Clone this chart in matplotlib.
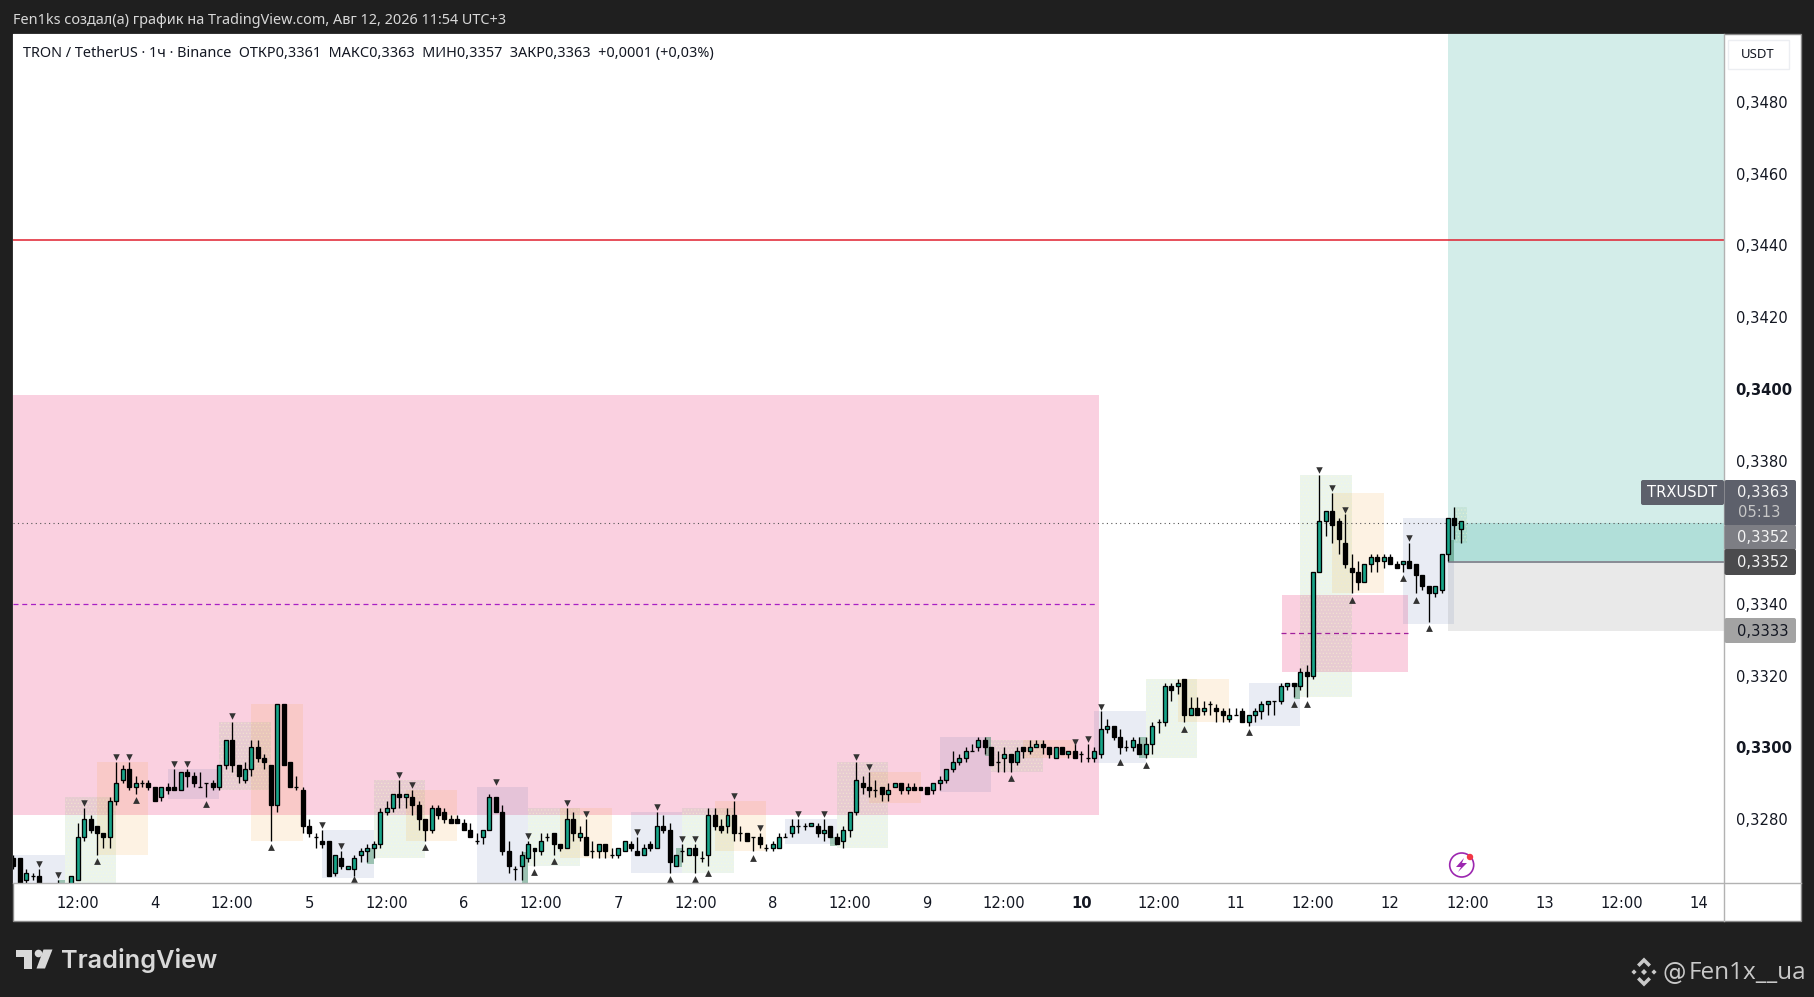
import numpy as np
import matplotlib
matplotlib.use('Agg')
import matplotlib.pyplot as plt
from matplotlib.patches import Rectangle, Polygon, Circle, FancyBboxPatch

W, H = 1814, 997
FONT = ['Noto Sans', 'DejaVu Sans']
plt.rcParams['font.family'] = FONT
plt.rcParams['hatch.linewidth'] = 0.6

# hours since Aug 3 12:00, one candle per hour, prices in 0.0001 units
first_hour = -10
opens = [
    3269, 3269, 3263, 3264, 3264, 3262, 3260, 3259, 3261, 3262,
    3263, 3275, 3280, 3278, 3276, 3275, 3285, 3291, 3294, 3289,
    3290, 3290, 3289, 3286, 3289, 3289, 3288, 3293, 3292, 3289,
    3290, 3290, 3289, 3295, 3302, 3295, 3291, 3294, 3300, 3297,
    3295, 3284, 3312, 3296, 3289, 3288, 3278, 3275, 3274, 3274,
    3265, 3269, 3266, 3266, 3270, 3271, 3272, 3273, 3282, 3283,
    3287, 3286, 3286, 3284, 3280, 3277, 3283, 3282, 3280, 3280,
    3279, 3277, 3274, 3275, 3277, 3286, 3282, 3271, 3266, 3267,
    3269, 3272, 3271, 3275, 3276, 3273, 3272, 3280, 3275, 3275,
    3271, 3271, 3273, 3270, 3270, 3271, 3273, 3271, 3270, 3273,
    3272, 3278, 3277, 3267, 3271, 3270, 3272, 3269, 3270, 3281,
    3278, 3278, 3281, 3276, 3276, 3275, 3275, 3272, 3272, 3272,
    3275, 3276, 3278, 3278, 3278, 3278, 3276, 3278, 3275, 3274,
    3277, 3282, 3290, 3289, 3288, 3289, 3287, 3289, 3290, 3288,
    3289, 3289, 3289, 3288, 3290, 3291, 3294, 3296, 3297, 3299,
    3300, 3302, 3300, 3296, 3297, 3298, 3296, 3300, 3299, 3300,
    3301, 3300, 3297, 3300, 3298, 3299, 3298, 3297, 3297, 3298,
    3305, 3306, 3303, 3300, 3300, 3301, 3298, 3301, 3307, 3307,
    3317, 3317, 3319, 3309, 3311, 3310, 3312, 3311, 3310, 3308,
    3309, 3310, 3307, 3309, 3310, 3312, 3313, 3313, 3317, 3318,
    3317, 3321, 3320, 3349, 3363, 3366, 3363, 3357, 3350, 3349,
    3346, 3351, 3353, 3352, 3353, 3351, 3351, 3352, 3351, 3348,
    3345, 3343, 3344, 3354, 3364, 3361,
]
highs = [
    3270, 3269, 3266, 3265, 3266, 3262, 3261, 3263, 3262, 3264,
    3279, 3283, 3281, 3278, 3276, 3286, 3296, 3295, 3296, 3292,
    3291, 3291, 3289, 3289, 3290, 3294, 3293, 3294, 3293, 3293,
    3290, 3291, 3295, 3302, 3307, 3295, 3296, 3302, 3302, 3298,
    3295, 3312, 3312, 3296, 3292, 3289, 3280, 3276, 3277, 3274,
    3270, 3271, 3267, 3270, 3272, 3273, 3274, 3283, 3285, 3287,
    3291, 3287, 3288, 3285, 3280, 3284, 3284, 3283, 3281, 3281,
    3280, 3279, 3276, 3277, 3287, 3286, 3284, 3274, 3267, 3271,
    3274, 3272, 3276, 3276, 3276, 3273, 3283, 3282, 3278, 3280,
    3274, 3273, 3273, 3272, 3272, 3274, 3274, 3275, 3273, 3274,
    3282, 3281, 3279, 3270, 3273, 3272, 3273, 3271, 3283, 3283,
    3280, 3283, 3285, 3278, 3276, 3275, 3276, 3273, 3274, 3276,
    3276, 3280, 3280, 3279, 3279, 3279, 3280, 3278, 3276, 3278,
    3282, 3296, 3292, 3293, 3291, 3289, 3290, 3290, 3290, 3290,
    3290, 3289, 3289, 3290, 3292, 3294, 3299, 3298, 3300, 3301,
    3303, 3303, 3300, 3299, 3300, 3298, 3300, 3300, 3302, 3302,
    3302, 3300, 3300, 3300, 3299, 3301, 3299, 3301, 3300, 3310,
    3308, 3306, 3305, 3302, 3303, 3303, 3303, 3307, 3308, 3318,
    3318, 3319, 3319, 3314, 3314, 3313, 3313, 3312, 3311, 3311,
    3311, 3311, 3309, 3311, 3313, 3313, 3313, 3318, 3318, 3318,
    3322, 3323, 3349, 3376, 3366, 3371, 3364, 3365, 3354, 3352,
    3351, 3354, 3354, 3354, 3354, 3352, 3352, 3357, 3351, 3348,
    3345, 3345, 3354, 3364, 3367, 3363,
]
lows = [
    3266, 3260, 3262, 3263, 3261, 3259, 3258, 3258, 3259, 3261,
    3263, 3274, 3276, 3270, 3272, 3272, 3284, 3290, 3288, 3287,
    3289, 3288, 3285, 3285, 3287, 3288, 3288, 3289, 3289, 3289,
    3286, 3288, 3288, 3294, 3293, 3290, 3290, 3292, 3296, 3294,
    3274, 3282, 3295, 3289, 3288, 3276, 3275, 3272, 3272, 3264,
    3264, 3266, 3266, 3264, 3268, 3268, 3269, 3272, 3281, 3282,
    3283, 3283, 3281, 3277, 3274, 3276, 3280, 3279, 3279, 3279,
    3277, 3275, 3273, 3273, 3277, 3282, 3270, 3265, 3263, 3263,
    3268, 3267, 3270, 3274, 3270, 3271, 3272, 3274, 3274, 3270,
    3269, 3269, 3269, 3269, 3269, 3271, 3271, 3270, 3270, 3271,
    3272, 3276, 3265, 3267, 3268, 3270, 3265, 3268, 3267, 3277,
    3276, 3276, 3274, 3274, 3274, 3271, 3272, 3271, 3271, 3272,
    3275, 3275, 3276, 3277, 3278, 3275, 3274, 3275, 3273, 3272,
    3275, 3281, 3287, 3286, 3286, 3285, 3285, 3289, 3287, 3287,
    3288, 3288, 3287, 3287, 3288, 3290, 3293, 3295, 3296, 3299,
    3299, 3298, 3295, 3293, 3293, 3293, 3295, 3297, 3298, 3300,
    3298, 3297, 3297, 3298, 3297, 3297, 3296, 3296, 3296, 3297,
    3304, 3302, 3298, 3299, 3299, 3298, 3297, 3298, 3304, 3306,
    3313, 3315, 3307, 3309, 3309, 3309, 3309, 3307, 3307, 3307,
    3309, 3307, 3306, 3307, 3308, 3309, 3309, 3312, 3316, 3314,
    3316, 3314, 3319, 3349, 3359, 3357, 3354, 3350, 3343, 3344,
    3346, 3349, 3349, 3350, 3351, 3350, 3349, 3350, 3343, 3344,
    3335, 3342, 3343, 3352, 3358, 3357,
]
closes = [
    3267, 3262, 3265, 3264, 3262, 3260, 3259, 3261, 3262, 3264,
    3275, 3280, 3277, 3276, 3275, 3285, 3290, 3294, 3289, 3290,
    3290, 3289, 3285, 3289, 3288, 3288, 3293, 3292, 3290, 3289,
    3290, 3289, 3295, 3302, 3295, 3292, 3294, 3300, 3297, 3296,
    3284, 3312, 3295, 3289, 3289, 3278, 3276, 3275, 3273, 3264,
    3270, 3267, 3267, 3269, 3271, 3272, 3273, 3282, 3283, 3287,
    3286, 3287, 3284, 3280, 3277, 3283, 3281, 3280, 3279, 3279,
    3277, 3275, 3274, 3277, 3286, 3282, 3271, 3267, 3266, 3270,
    3273, 3271, 3274, 3275, 3273, 3272, 3280, 3276, 3276, 3270,
    3271, 3273, 3271, 3270, 3272, 3274, 3272, 3270, 3272, 3272,
    3278, 3277, 3268, 3270, 3271, 3272, 3270, 3269, 3281, 3278,
    3277, 3281, 3276, 3276, 3274, 3275, 3273, 3272, 3273, 3275,
    3275, 3278, 3278, 3278, 3279, 3276, 3277, 3275, 3273, 3277,
    3282, 3291, 3289, 3288, 3288, 3287, 3288, 3290, 3288, 3289,
    3288, 3288, 3287, 3290, 3291, 3294, 3296, 3297, 3299, 3299,
    3302, 3300, 3295, 3296, 3298, 3296, 3299, 3299, 3300, 3301,
    3300, 3298, 3300, 3298, 3299, 3297, 3298, 3297, 3299, 3305,
    3306, 3303, 3300, 3300, 3302, 3298, 3301, 3306, 3307, 3317,
    3316, 3318, 3309, 3311, 3309, 3311, 3312, 3310, 3309, 3309,
    3309, 3307, 3309, 3310, 3312, 3313, 3313, 3317, 3318, 3317,
    3321, 3320, 3349, 3363, 3366, 3362, 3358, 3351, 3349, 3346,
    3351, 3353, 3352, 3353, 3351, 3350, 3352, 3350, 3348, 3345,
    3343, 3345, 3354, 3364, 3362, 3363,
]

# session boxes: start hour, end hour, low, high
blue_boxes = [(-11, -2, 3260, 3270), (14, 22, 3285.5, 3294), (38, 46, 3263.5, 3277),
              (62, 70, 3260, 3289), (86, 94, 3265, 3282), (110, 118, 3273, 3280),
              (134, 142, 3287.5, 3303), (158, 166, 3295.7, 3310), (182, 190, 3306, 3318),
              (206, 214, 3334.5, 3364)]
green_boxes = [(-2, 6, 3260, 3286), (22, 30, 3288, 3307), (46, 54, 3269, 3291),
               (70, 78, 3267, 3283), (94, 102, 3265, 3283), (118, 126, 3272, 3296),
               (142, 150, 3293, 3302), (166, 174, 3297, 3319), (190, 198, 3314, 3376),
               (214, 216, 3357, 3367)]
orange_boxes = [(3, 11, 3270, 3296), (27, 35, 3274, 3312), (51, 59, 3274, 3288),
                (75, 83, 3269, 3283), (99, 107, 3271, 3285), (123, 131, 3284.5, 3293),
                (147, 155, 3297, 3302), (171, 179, 3307, 3319), (195, 203, 3343, 3371)]
overlap_bits = [(-3, -2, 3260, 3263), (45, 46, 3267.4, 3271.8), (69, 70, 3260, 3270.7),
                (93, 94, 3266.7, 3271.8), (117, 118, 3272.6, 3275), (141, 142, 3297.7, 3302.8),
                (165, 166, 3297, 3302.8), (189, 190, 3313.6, 3317.8), (213, 214, 3351.8, 3357.8)]

# pivot markers
down_hours = [-6, -3, 1, 6, 8, 15, 17, 24, 38, 41, 50, 52, 65, 70, 76, 79, 87, 90, 94, 96,
              102, 106, 112, 116, 121, 123, 155, 157, 159, 193, 195, 197, 207]
down_prices = [3267.5, 3264.4, 3284.5, 3297.4, 3297.4, 3295.3, 3295.3, 3308.6, 3278.3, 3272.5,
               3292.4, 3289.5, 3290.3, 3275.3, 3284.5, 3281.5, 3276.4, 3283.3, 3274.4, 3274.4,
               3286.4, 3277.5, 3281.4, 3281.4, 3297.4, 3294.5, 3301.5, 3302.3, 3311.3,
               3377.3, 3372.3, 3366.3, 3358.4]
up_hours = [3, 9, 20, 30, 43, 54, 71, 74, 92, 96, 98, 105, 145, 162, 166, 172, 182, 189, 191,
            198, 206, 208, 210]
up_prices = [3268.2, 3285.2, 3284.1, 3272.1, 3263.2, 3272.1, 3265.1, 3268.2, 3263.2, 3263.2,
             3265, 3269.2, 3291.3, 3296, 3295.2, 3305.1, 3304.2, 3312.2, 3312.2,
             3341.1, 3347.1, 3341.1, 3333.2]

# 0,3360 sits behind the price tags in the reference
price_ticks = [3280, 3300, 3320, 3340, 3380, 3400, 3420, 3440, 3460, 3480]
bold_prices = [3300, 3400]
time_ticks = list(range(0, 253, 12))
time_labels = ['12:00', '4', '12:00', '5', '12:00', '6', '12:00', '7', '12:00', '8', '12:00', '9',
               '12:00', '10', '12:00', '11', '12:00', '12', '12:00', '13', '12:00', '14']

hours = np.arange(first_hour, first_hour + len(opens))
o, h, l, c = [np.array(a) / 1e4 for a in (opens, highs, lows, closes)]

fig = plt.figure(figsize=(W / 100, H / 100), dpi=100, facecolor='#1f1f1f')

# pixel canvas for the frame
back = fig.add_axes([0, 0, 1, 1], zorder=0)
back.set_xlim(0, W)
back.set_ylim(H, 0)
back.axis('off')
back.add_patch(Rectangle((13, 34), 1788, 887, fc='white', ec='#8a8a8a', lw=1))

ax = fig.add_axes([13 / W, (H - 883) / H, (1724.3 - 13) / W, (883 - 34) / H], zorder=1)
ax.set_xlim(-10.06, 255.94)
ax.set_ylim(0.326215, 0.349897)
for s in ax.spines.values():
    s.set_visible(False)


def box(x0, x1, low, high, color, alpha=1.0, z=2, **kw):
    ax.add_patch(Rectangle((x0, low / 1e4), x1 - x0, (high - low) / 1e4,
                           fc=matplotlib.colors.to_rgba(color, alpha), lw=0, zorder=z, **kw))


# supply zones
box(-12, 158.75, 3281, 3398.2, '#fad0e0', z=1)
box(187.2, 206.8, 3321, 3342.5, '#fad0e0', z=1)
ax.hlines(0.3340, -10.06, 158.5, color='#a81fc4', lw=0.9, ls=(0, (4, 3)), zorder=3)
ax.hlines(0.33318, 187.1, 206.7, color='#a01f9c', lw=0.9, ls=(0, (4, 3)), zorder=3)

# long position tool
box(213, 256, 3362.7, 3510, '#d3ede9', z=1)
box(213, 256, 3352, 3362.7, '#b1dfd9', z=1)
box(213, 256, 3332.5, 3352, '#e9e9e9', z=1)
ax.hlines(0.33516, 213, 256, color='#787b86', lw=1.2, zorder=3)

for b in blue_boxes:
    box(*b, '#3c5aa0', 0.11)
for b in green_boxes:
    ax.add_patch(Rectangle((b[0], b[2] / 1e4), b[1] - b[0], (b[3] - b[2]) / 1e4,
                           fc=(0.38, 0.67, 0.44, 0.12), lw=0, zorder=2))
    ax.add_patch(Rectangle((b[0], b[2] / 1e4), b[1] - b[0], (b[3] - b[2]) / 1e4,
                           fc='none', ec=(1, 1, 0.8, 0.35), hatch='.....', lw=0, zorder=2))
for b in orange_boxes:
    box(*b, '#f59b1e', 0.12)
for b in overlap_bits:
    box(*b, '#3f8f62', 0.45)

ax.hlines(0.34415, -10.06, 255.94, color='#e0202f', lw=1.1, zorder=3)
ax.hlines(0.33627, -10.06, 255.94, color='#555555', lw=0.8, ls=(0, (1, 3)), zorder=3)

# candles
rising = c > o
body_colors = np.where(rising, '#17a589', '#000000')
ax.vlines(hours, l, h, color='black', lw=0.95, zorder=5)
ax.bar(hours, c - o, bottom=o, width=0.62, color=body_colors, edgecolor='black', linewidth=0.95, zorder=6)
ax.scatter(down_hours, np.array(down_prices) / 1e4, marker='v', s=22, color='#333333', lw=0, zorder=7)
ax.scatter(up_hours, np.array(up_prices) / 1e4, marker='^', s=24, color='#333333', lw=0, zorder=7)

# scales
ax.yaxis.tick_right()
ax.set_yticks(np.array(price_ticks) / 1e4)
ax.set_yticklabels([f'0,{p}' for p in price_ticks], fontsize=10.6, color='#131722', family='DejaVu Sans')
for lab, p in zip(ax.get_yticklabels(), price_ticks):
    if p in bold_prices:
        lab.set_fontweight('bold')
ax.set_xticks(time_ticks)
ax.set_xticklabels(time_labels, fontsize=10.6, color='#131722', family='DejaVu Sans')
for lab, t in zip(ax.get_xticklabels(), time_labels):
    if t == '10':
        lab.set_fontweight('bold')
ax.tick_params(axis='y', length=0, pad=8.2)
ax.tick_params(axis='x', length=0, pad=9)

# overlay: price tags, header and logos, pixel coordinates
top = fig.add_axes([0, 0, 1, 1], zorder=2)
top.set_xlim(0, W)
top.set_ylim(H, 0)
top.axis('off')
top.patch.set_alpha(0)
top.plot([13, 1801], [883, 883], color='#b2b2b2', lw=1)
top.plot([1724.3, 1724.3], [34, 921], color='#b2b2b2', lw=1)


def tag(x0, y0, x1, y1, color):
    top.add_patch(FancyBboxPatch((x0 + 1, y0 + 1), x1 - x0 - 2, y1 - y0 - 2, boxstyle='round,pad=1,rounding_size=2',
                                 fc=color, ec='none', zorder=3))


tag(1641, 480, 1724, 505, '#5d606b')
tag(1724.5, 480, 1796, 526, '#5d606b')
tag(1724.5, 525, 1796, 550, '#7d7e84')
tag(1724.5, 549, 1796, 575, '#4b4b4d')
tag(1724.5, 618, 1796, 643, '#a3a3a3')
tkw = dict(ha='center', va='center', zorder=4, fontsize=10.6, family='DejaVu Sans')
top.text(1682.5, 492.5, 'TRXUSDT', color='white', **tkw)
top.text(1763, 492, '0,3363', color='#f4f4f4', **tkw)
top.text(1759, 512, '05:13', color='#c8c8c8', **tkw)
top.text(1763, 537.5, '0,3352', color='#f4f4f4', **tkw)
top.text(1763, 562, '0,3352', color='#f4f4f4', **tkw)
top.text(1763, 631, '0,3333', color='#131722', **tkw)

top.add_patch(Rectangle((1728, 40), 61, 29, fc='white', ec='#eceef2', lw=1))
top.text(1758, 54.5, 'USDT', color='#131722', fontsize=9.5, ha='center', va='center')

top.text(13, 20, 'Fen1ks создал(а) график на TradingView.com, Авг 12, 2026 11:54 UTC+3',
         color='#d8d8d8', fontsize=10.4, va='center', ha='left')
top.text(23, 54, 'TRON / TetherUS · 1ч · Binance  ОТКР0,3361  МАКС0,3363  МИН0,3357  ЗАКР0,3363  +0,0001 (+0,03%)',
         color='#131722', fontsize=10.4, va='center', ha='left')

# alert icon
top.add_patch(Circle((1461.7, 865), 12, fc='none', ec='#9c27b0', lw=1.2))
top.add_patch(Polygon([(1464, 858), (1456, 867), (1461, 867), (1458, 872), (1467, 863), (1462, 863)],
                      fc='#9c27b0', ec='none'))
top.add_patch(Circle((1470, 857), 3.2, fc='#f23645', ec='none'))

# TradingView logo
logo = '#d9d9d9'
top.add_patch(Polygon([(15.7, 949.5), (32, 949.5), (32, 968.5), (23.5, 968.5), (23.5, 957), (15.7, 957)], fc=logo, ec='none'))
top.add_patch(Circle((38.5, 953.5), 3.8, fc=logo, ec='none'))
top.add_patch(Polygon([(43.5, 949.5), (52.5, 949.5), (45, 968.5), (36.5, 968.5)], fc=logo, ec='none'))
top.text(61, 960, 'TradingView', color=logo, fontsize=18.2, family='Inter', weight='semibold', va='center', ha='left')

# Binance watermark
wm = '#c9c9c9'
for cx, cy, r in [(1644, 972, 3), (1634, 972, 2.6), (1654, 972, 2.6)]:
    top.add_patch(Polygon([(cx - r, cy), (cx, cy - r), (cx + r, cy), (cx, cy + r)], fc=wm, ec='none'))
top.add_patch(Polygon([(1644, 957.5), (1651, 964.5), (1648.5, 967), (1644, 962.5), (1639.5, 967), (1637, 964.5)], fc=wm, ec='none'))
top.add_patch(Polygon([(1644, 986.5), (1651, 979.5), (1648.5, 977), (1644, 981.5), (1639.5, 977), (1637, 979.5)], fc=wm, ec='none'))
top.text(1663, 972.5, '@', color=wm, fontsize=17, va='center', ha='left', family='DejaVu Sans')
top.text(1689, 972.5, 'Fen1x__ua', color=wm, fontsize=17.5, va='center', ha='left', family='Open Sans')

fig.savefig('out.png', dpi=100, facecolor=fig.get_facecolor())
